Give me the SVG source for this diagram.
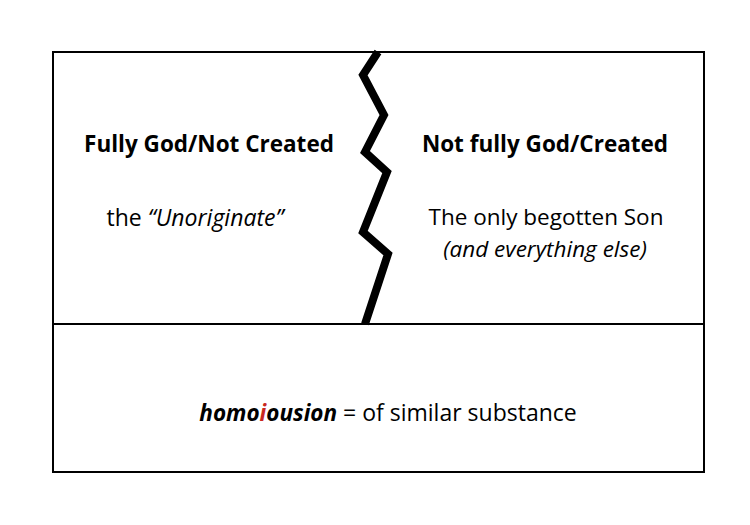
<svg xmlns="http://www.w3.org/2000/svg" width="750" height="525" viewBox="0 0 750 525">
<style>
.t{font-family:"Open Sans","Noto Sans","Liberation Sans",sans-serif;font-size:23px;fill:#000}
.b{font-weight:bold;font-size:22.5px}
.i{font-style:italic}
.s{font-size:22.5px}
.frame{fill:none;stroke:#000;stroke-width:2}
</style>
<rect width="750" height="525" fill="#fff"/>
<g id="frame">
<rect class="frame" x="53" y="52" width="651" height="420"/>
<line class="frame" x1="53" y1="324" x2="704" y2="324"/>
</g>
<g id="connectors">
<polyline points="378,52 363,75 384,115 365,152 387,172 363,232 388,254 365,324" fill="none" stroke="#000" stroke-width="8" stroke-linejoin="miter"/>
</g>
<g id="left">
<text class="t b" x="209" y="152" text-anchor="middle">Fully God/Not Created</text>
<text class="t" x="195" y="226" text-anchor="middle">the <tspan class="i">“Unoriginate”</tspan></text>
</g>
<g id="right">
<text class="t b" x="545" y="152" text-anchor="middle">Not fully God/Created</text>
<text class="t s" x="546" y="225" text-anchor="middle">The only begotten Son</text>
<text class="t i s" x="545" y="256.5" text-anchor="middle">(and everything else)</text>
</g>
<g id="bottom">
<text class="t" x="388" y="420.5" text-anchor="middle"><tspan class="b i" font-size="23">homo</tspan><tspan class="b i" font-size="23" fill="#c8281e">i</tspan><tspan class="b i" font-size="23">ousion</tspan> = of similar substance</text>
</g>
</svg>
